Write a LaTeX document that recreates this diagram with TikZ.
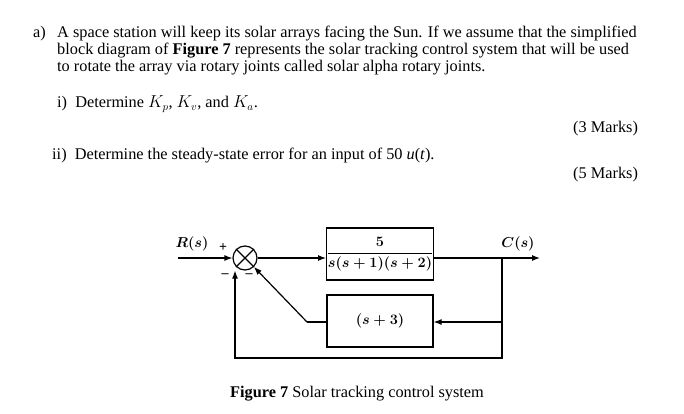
\documentclass[tikz,border=0pt]{standalone}
\usepackage{fontspec}
\setmainfont{Liberation Serif}
\usetikzlibrary{arrows.meta}
\begin{document}
\begin{tikzpicture}[x=1pt,y=-1pt,
  txt/.style={anchor=base west,inner sep=0,font=\fontsize{16.3}{18}\selectfont},
  blk/.style={draw,line width=1.2pt,minimum width=106pt,minimum height=52pt,inner sep=0,font=\fontsize{15}{17}\selectfont\bfseries\boldmath},
  ln/.style={line width=1.2pt},
  ar/.style={ln,-{Latex[length=8pt,width=6pt]}},
  lab/.style={inner sep=0,font=\fontsize{14}{16}\selectfont\bfseries\boldmath}]
\useasboundingbox (0,0) rectangle (684,414);
\node[txt] (t0) at (33,38) {a)};
\node[txt] (t1) at (57,38) {A space station will keep its solar arrays facing the Sun. If we assume that the simplified};
\node[txt] (t2) at (57,55) {block diagram of \textbf{Figure 7} represents the solar tracking control system that will be used};
\node[txt] (t3) at (57,72) {to rotate the array via rotary joints called solar alpha rotary joints.};
\node[txt] (t4) at (57,108) {i)\ \ Determine $K_p$, $K_v$, and $K_a$.};
\node[txt] (t5) at (573,133) {(3 Marks)};
\node[txt] (t6) at (52,159) {ii)\ \ Determine the steady-state error for an input of 50 \textit{u}(\textit{t}).};
\node[txt] (t7) at (573,178) {(5 Marks)};
\node[txt] (cap) at (230,397) {\textbf{Figure 7} Solar tracking control system};
% diagram
\node[draw,circle,line width=1.2pt,minimum size=24pt,inner sep=0] (sum) at (245,258) {};
\draw[ln] (sum.north west) -- (sum.south east) (sum.north east) -- (sum.south west);
\node[blk] (G) at (380,254) {$\displaystyle\frac{5}{s(s+1)(s+2)}$};
\node[blk] (H) at (380,321) {$(s+3)$};
\coordinate (in) at (178,258);
\coordinate (out) at (540,258);
\coordinate (br) at (502,258);
\coordinate (hl) at (307,322);
\coordinate (bl) at (235,358);
\draw[ar] (in) -- (sum.west);
\draw[ar] (sum.east) -- (G.west |- sum.east);
\draw[ar] (G.east |- br) -- (out);
\draw[ar] (br) |- (H.east |- hl);
\draw[ln] (H.west |- hl) -- (hl);
\draw[ar] (hl) -- (sum.south east);
\draw[ar] (br) |- (bl) -- (sum.south -| bl);
\node[lab] (R) at (192,244) {$R(s)$};
\node[lab] (C) at (518,244) {$C(s)$};
\node[lab] (p) at (223,248) {+};
\node[lab] (m1) at (225,276) {--};
\node[lab] (m2) at (249,276) {--};
\end{tikzpicture}
\end{document}
